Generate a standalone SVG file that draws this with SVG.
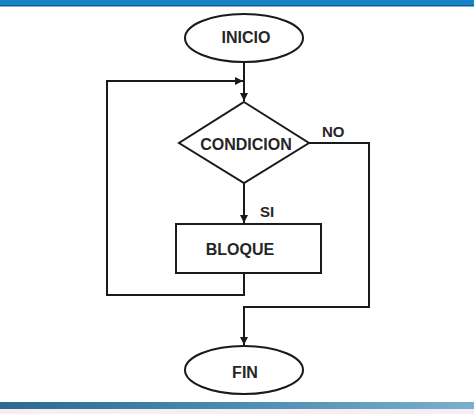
<svg xmlns="http://www.w3.org/2000/svg" width="474" height="414" viewBox="0 0 474 414">
<defs>
<linearGradient id="bot" x1="0" y1="0" x2="1" y2="0">
<stop offset="0" stop-color="#2c6a90"/>
<stop offset="0.5" stop-color="#4a8cb0"/>
<stop offset="1" stop-color="#7ab0cc"/>
</linearGradient>
<marker id="ah" viewBox="0 0 10 10" refX="10" refY="5" markerWidth="8" markerHeight="8" markerUnits="userSpaceOnUse" orient="auto">
<path d="M0,0 L10,5 L0,10 z" fill="#1a1a1a"/>
</marker>
</defs>
<style>
.shape{fill:#ffffff;stroke:#1a1a1a;stroke-width:2}
.line{fill:none;stroke:#1a1a1a;stroke-width:2}
.lbl{font-family:"Liberation Sans",Arial,sans-serif;font-weight:bold;font-size:16px;fill:#262626;text-anchor:middle}
.edge{font-family:"Liberation Sans",Arial,sans-serif;font-weight:bold;font-size:15px;fill:#262626}
</style>
<rect x="0" y="0" width="474" height="414" fill="#ffffff"/>
<rect x="0" y="0" width="474" height="6" fill="#1683c6"/>
<rect x="0" y="5" width="474" height="1.5" fill="#0f5f94"/>
<rect x="0" y="402" width="474" height="7" fill="url(#bot)"/>
<rect x="0" y="409" width="474" height="5" fill="#f6eef3"/>
<g id="connectors">
<line class="line" x1="244" y1="62" x2="244" y2="101" marker-end="url(#ah)"/>
<polyline class="line" points="244,273 244,295 107,295 107,81 243,81" marker-end="url(#ah)"/>
<line class="line" x1="244" y1="183" x2="244" y2="223" marker-end="url(#ah)"/>
<polyline class="line" points="309,143 369,143 369,307 244,307 244,345" marker-end="url(#ah)"/>
<text class="edge" x="322" y="137">NO</text>
<text class="edge" x="260" y="217">SI</text>
</g>
<g id="inicio">
<ellipse class="shape" cx="244" cy="38" rx="59" ry="24"/>
<text class="lbl" x="246" y="43">INICIO</text>
</g>
<g id="condicion">
<polygon class="shape" points="244,102 309,143 244,183 179,143"/>
<text class="lbl" x="246" y="150">CONDICION</text>
</g>
<g id="bloque">
<rect class="shape" x="176" y="224" width="145" height="49"/>
<text class="lbl" x="240" y="255">BLOQUE</text>
</g>
<g id="fin">
<ellipse class="shape" cx="244" cy="370" rx="59" ry="24"/>
<text class="lbl" x="245" y="378">FIN</text>
</g>
</svg>
